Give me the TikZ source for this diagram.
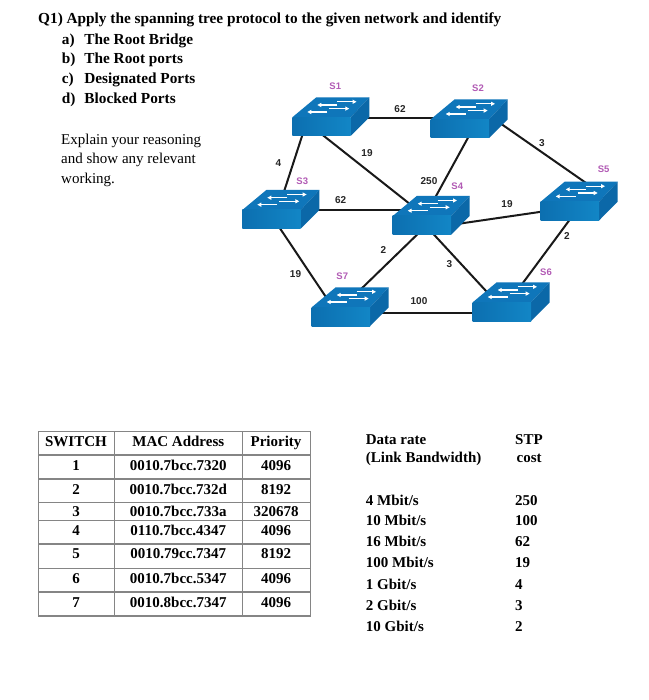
\documentclass[tikz,border=0pt]{standalone}
\usepackage{fontspec}
\setmainfont{Liberation Serif}
\newfontfamily\labfont{Liberation Sans}
\usetikzlibrary{backgrounds,arrows.meta}
\definecolor{swtop}{HTML}{0F76BA}
\definecolor{swfrontA}{HTML}{0C6FB0}
\definecolor{swfrontB}{HTML}{1286C6}
\definecolor{swside}{HTML}{0B68A8}
\definecolor{swlabel}{HTML}{B25BB5}
\definecolor{tabline}{HTML}{858585}
\tikzset{
  x=1pt,y=-1pt,
  switchbox/.style={anchor=north west,minimum width=77pt,minimum height=38.7pt,inner sep=0pt,outer sep=0pt},
  link/.style={line width=2pt,black!90},
  cost/.style={font=\labfont\bfseries\fontsize{10}{11}\selectfont,text=black!85,inner sep=0pt},
  swname/.style={font=\labfont\bfseries\fontsize{9.5}{11}\selectfont,text=swlabel,inner sep=0pt},
  qtext/.style={font=\bfseries\fontsize{15.3}{17}\selectfont,anchor=base west,inner sep=0pt},
  plain/.style={font=\fontsize{15}{17}\selectfont,anchor=base west,inner sep=0pt},
  tabtext/.style={font=\bfseries\fontsize{15}{17}\selectfont,anchor=base,inner sep=0pt},
  ratetext/.style={font=\bfseries\fontsize{15}{17}\selectfont,anchor=base west,inner sep=0pt},
  tabrule/.style={line width=1.1pt,tabline},
  swarrow/.style={white,line width=1.1pt,-{Triangle[length=4pt,width=4pt]}},
}
% name, x of front left, y of top of icon
\newcommand{\swicon}[3]{%
  \node[switchbox] (#1) at (#2,#3) {};
  \begin{scope}[shift={(#2,#3)}]
    \fill[swtop] (0,20) -- (24,0) -- (77,0) -- (58.4,20) -- cycle;
    \fill[swside] (58.4,20) -- (77,0) -- (77,20) -- (58.4,38.7) -- cycle;
    \shade[left color=swfrontA,right color=swfrontB] (0,20) rectangle (58.4,38.7);
    \draw[swarrow] (45,4.5) -- (64.3,4.5);
    \draw[swarrow] (45,7.7) -- (25,7.7);
    \draw[swarrow] (37,11.3) -- (57,11.3);
    \draw[swarrow] (35,14.7) -- (15,14.7);
  \end{scope}}
\newcommand{\qitem}[2]{\makebox[22.5pt][l]{#1}#2}
\begin{document}
\begin{tikzpicture}
\useasboundingbox (0,0) rectangle (648,700);
% switches
\swicon{s1}{292.3}{97.3}
\swicon{s2}{430.7}{99.3}
\swicon{s3}{242.3}{190}
\swicon{s4}{392.7}{196}
\swicon{s5}{540.7}{181.7}
\swicon{s6}{472.7}{282.3}
\swicon{s7}{311.7}{287.3}
% links run behind the icons
\begin{scope}[on background layer]
\fill[white] (0,0) rectangle (648,700);
\draw[link] ([shift={(30,1)}]s1.center) -- ([shift={(-30,-1)}]s2.center);
\draw[link] ([shift={(-26.8,13.35)}]s1.center) -- ([shift={(2,-14)}]s3.center);
\draw[link] ([shift={(-8.8,17.85)}]s1.center) -- ([shift={(-19.2,-9.65)}]s4.center);
\draw[link] ([shift={(1.4,14.35)}]s2.center) -- ([shift={(2.1,-14.35)}]s4.center);
\draw[link] ([shift={(27.8,2.35)}]s2.center) -- ([shift={(9.8,-16)}]s5.center);
\draw[link] ([shift={(30,0.35)}]s3.center) -- ([shift={(-25,-5.65)}]s4.center);
\draw[link] ([shift={(-2.8,16)}]s3.center) -- ([shift={(-21.2,-5)}]s7.center);
\draw[link] ([shift={(23.8,8.95)}]s4.center) -- ([shift={(-34.2,10.15)}]s5.center);
\draw[link] ([shift={(-11.2,16.45)}]s4.center) -- ([shift={(7.8,-14.65)}]s7.center);
\draw[link] ([shift={(-1.2,15)}]s4.center) -- ([shift={(-21.2,-6.35)}]s6.center);
\draw[link] ([shift={(-6,13.95)}]s5.center) -- ([shift={(8.7,-14.65)}]s6.center);
\draw[link] ([shift={(20,6.35)}]s7.center) -- ([shift={(-30,11.35)}]s6.center);
\end{scope}
% switch names
\node[swname] (n1) at (335.3,86.7) {S1};
\node[swname] (n2) at (478,88.3) {S2};
\node[swname] (n3) at (302.3,181) {S3};
\node[swname] (n4) at (457.3,186.7) {S4};
\node[swname] (n5) at (603.7,169.3) {S5};
\node[swname] (n6) at (546,272) {S6};
\node[swname] (n7) at (342.3,276.7) {S7};
% costs
\node[cost] (c1) at (400,109) {62};
\node[cost] (c2) at (278.3,163) {4};
\node[cost] (c3) at (367,153.3) {19};
\node[cost] (c4) at (429,181) {250};
\node[cost] (c5) at (542,143) {3};
\node[cost] (c6) at (340.7,200.3) {62};
\node[cost] (c7) at (507,204) {19};
\node[cost] (c8) at (295.5,274.3) {19};
\node[cost] (c9) at (383.3,250.3) {2};
\node[cost] (c10) at (449.3,264.3) {3};
\node[cost] (c11) at (567,236) {2};
\node[cost] (c12) at (419,301.3) {100};
% question
\node[qtext] (q0) at (38,24) {Q1) Apply the spanning tree protocol to the given network and identify};
\node[qtext] (qa) at (61.7,44.3) {\qitem{a)}{The Root Bridge}};
\node[qtext] (qb) at (61.7,64) {\qitem{b)}{The Root ports}};
\node[qtext] (qc) at (61.7,84) {\qitem{c)}{Designated Ports}};
\node[qtext] (qd) at (61.7,104) {\qitem{d)}{Blocked Ports}};
\node[plain] (e1) at (61,144.3) {Explain your reasoning};
\node[plain] (e2) at (61,164) {and show any relevant};
\node[plain] (e3) at (61,183.3) {working.};
% table
\draw[tabrule] (38.3,431.7) rectangle (310.7,616);
\foreach \yy in {455,479,502.3,520.7,544,568.3,592} \draw[tabrule] (38.3,\yy) -- (310.7,\yy);
\foreach \xx in {114.3,242.3} \draw[tabrule] (\xx,431.7) -- (\xx,616);
\node[tabtext] (h1) at (76,446) {SWITCH};
\node[tabtext] (h2) at (178.3,446) {MAC Address};
\node[tabtext] (h3) at (276,446) {Priority};
\node[tabtext] (a1) at (76,470.5) {1};
\node[tabtext] (a2) at (76,494) {2};
\node[tabtext] (a3) at (76,516.5) {3};
\node[tabtext] (a4) at (76,535.5) {4};
\node[tabtext] (a5) at (76,558.7) {5};
\node[tabtext] (a6) at (76,583.3) {6};
\node[tabtext] (a7) at (76,607.3) {7};
\node[tabtext] (b1) at (178.3,470.5) {0010.7bcc.7320};
\node[tabtext] (b2) at (178.3,494) {0010.7bcc.732d};
\node[tabtext] (b3) at (178.3,516.5) {0010.7bcc.733a};
\node[tabtext] (b4) at (178.3,535.5) {0110.7bcc.4347};
\node[tabtext] (b5) at (178.3,558.7) {0010.79cc.7347};
\node[tabtext] (b6) at (178.3,583.3) {0010.7bcc.5347};
\node[tabtext] (b7) at (178.3,607.3) {0010.8bcc.7347};
\node[tabtext] (p1) at (276,470.5) {4096};
\node[tabtext] (p2) at (276,494) {8192};
\node[tabtext] (p3) at (276,516.5) {320678};
\node[tabtext] (p4) at (276,535.5) {4096};
\node[tabtext] (p5) at (276,558.7) {8192};
\node[tabtext] (p6) at (276,583.3) {4096};
\node[tabtext] (p7) at (276,607.3) {4096};
% rates
\node[ratetext] (r0) at (365.7,444.3) {Data rate};
\node[ratetext] (r00) at (365.7,462.7) {(Link Bandwidth)};
\node[ratetext] (k0) at (515,444.3) {STP};
\node[ratetext] (k00) at (516.5,462.7) {cost};
\node[ratetext] (r1) at (365.7,505) {4 Mbit/s};
\node[ratetext] (r2) at (365.7,525.7) {10 Mbit/s};
\node[ratetext] (r3) at (365.7,546.7) {16 Mbit/s};
\node[ratetext] (r4) at (365.7,567.7) {100 Mbit/s};
\node[ratetext] (r5) at (365.7,589) {1 Gbit/s};
\node[ratetext] (r6) at (365.7,610.7) {2 Gbit/s};
\node[ratetext] (r7) at (365.7,631.7) {10 Gbit/s};
\node[ratetext] (k1) at (515,505) {250};
\node[ratetext] (k2) at (515,525.7) {100};
\node[ratetext] (k3) at (515,546.7) {62};
\node[ratetext] (k4) at (515,567.7) {19};
\node[ratetext] (k5) at (515,589) {4};
\node[ratetext] (k6) at (515,610.7) {3};
\node[ratetext] (k7) at (515,631.7) {2};
\end{tikzpicture}
\end{document}
